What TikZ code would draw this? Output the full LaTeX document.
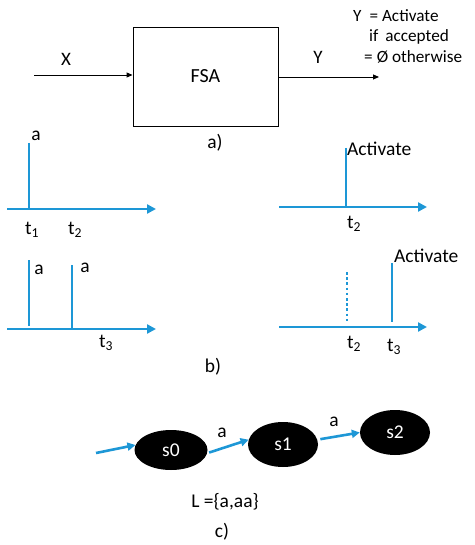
\documentclass[tikz,border=0pt]{standalone}
\usepackage{fontspec}
\setmainfont{Carlito}
\usetikzlibrary{arrows.meta,shapes.geometric}
\definecolor{axisblue}{RGB}{29,151,214}
\begin{document}
\begin{tikzpicture}[x=1pt,y=-1pt,
  lbl/.style={inner sep=0pt, font=\fontsize{19}{21}\selectfont},
  sml/.style={inner sep=0pt, anchor=west, font=\fontsize{17.2}{19}\selectfont},
  big/.style={inner sep=0pt, font=\fontsize{19.5}{21}\selectfont},
  blk/.style={draw=black, line width=0.9pt, -{Triangle[length=6pt,width=5pt]}},
  axis/.style={draw=axisblue, line width=2.6pt, -{Triangle[length=9pt,width=9pt]}},
  spike/.style={draw=axisblue, line width=2.6pt},
  dots/.style={draw=axisblue, line width=2.6pt, dash pattern=on 2.6pt off 2.6pt},
  state/.style={ellipse, fill=black, text=white, inner sep=0pt, font=\fontsize{19.5}{21}\selectfont},
  sarrow/.style={draw=axisblue, line width=2.6pt, -{Triangle[length=8pt,width=8pt]}}
]
\useasboundingbox (0,0) rectangle (474,545);

% a) block diagram
\node[draw, line width=0.9pt, minimum width=145pt, minimum height=99pt, lbl, font=\fontsize{20}{22}\selectfont] (fsa) at (205.5,76.5) {FSA};
\coordinate (xin) at (34,75);
\coordinate (yout) at (379,77);
\draw[blk] (xin) -- (xin -| fsa.west);
\draw[blk] (fsa.east |- yout) -- (yout);
\node[lbl] (xl) at (66,59) {X};
\node[lbl] (yl) at (318,57) {Y};
\node[sml] (r1) at (353,16) {Y\hspace{8pt}= Activate};
\node[sml] (r2) at (369,37) {if\hspace{7pt}accepted};
\node[sml] (r3) at (364,57) {=\hspace{4pt}Ø otherwise};
\node[big] (la) at (215,143) {a)};

% b) top-left
\coordinate (tl0) at (7,209);
\coordinate (tl1) at (156,209);
\coordinate (tls0) at (29,143);
\coordinate (tls1) at (29,209);
\draw[axis] (tl0) -- (tl1);
\draw[spike] (tls0) -- (tls1);
\node[big] (tla) at (36,136) {a};
\node[big] (tlt1) at (32,230) {t\textsubscript{1}};
\node[big] (tlt2) at (75,230) {t\textsubscript{2}};

% b) top-right
\coordinate (tr0) at (279,207);
\coordinate (tr1) at (427,207);
\coordinate (trs0) at (346,148);
\coordinate (trs1) at (346,207);
\draw[axis] (tr0) -- (tr1);
\draw[spike] (trs0) -- (trs1);
\node[big, anchor=west] (tract) at (347,149) {Activate};
\node[big] (trt2) at (354,224) {t\textsubscript{2}};

% b) bottom-left
\coordinate (bl0) at (7,329);
\coordinate (bl1) at (156,329);
\coordinate (bls0) at (29,260);
\coordinate (bls1) at (29,326);
\coordinate (bls2) at (72,265);
\coordinate (bls3) at (72,329);
\draw[axis] (bl0) -- (bl1);
\draw[spike] (bls0) -- (bls1);
\draw[spike] (bls2) -- (bls3);
\node[big] (bla1) at (39,270) {a};
\node[big] (bla2) at (85,268) {a};
\node[big] (blt3) at (106,343) {t\textsubscript{3}};

% b) bottom-right
\coordinate (br0) at (279,327);
\coordinate (br1) at (427,327);
\coordinate (brd0) at (347,272);
\coordinate (brd1) at (347,321);
\coordinate (brs0) at (392,263);
\coordinate (brs1) at (392,322);
\draw[axis] (br0) -- (br1);
\draw[dots] (brd0) -- (brd1);
\draw[spike] (brs0) -- (brs1);
\node[big, anchor=west] (bract) at (394,256) {Activate};
\node[big] (brt2) at (354,344) {t\textsubscript{2}};
\node[big] (brt3) at (394,347) {t\textsubscript{3}};
\node[big] (lb) at (213,367) {b)};

% c) automaton
\node[state, minimum width=73pt, minimum height=40pt] (s0) at (171,450) {s0};
\node[state, minimum width=70pt, minimum height=45pt] (s1) at (283,444.5) {s1};
\node[state, minimum width=70pt, minimum height=45pt] (s2) at (395,432.5) {s2};
\coordinate (start) at (96,453);
\draw[sarrow] (start) -- (s0.172);
\draw[sarrow, shorten <=2pt] (s0.-5) -- (s1.172);
\draw[sarrow, shorten <=3pt] (s1.8) -- (s2.180);
\node[big] (e1) at (222,433) {a};
\node[big] (e2) at (334,422) {a};
\node[big] (lang) at (225,502) {L =\{a,aa\}};
\node[big] (lc) at (222,532) {c)};
\end{tikzpicture}
\end{document}
